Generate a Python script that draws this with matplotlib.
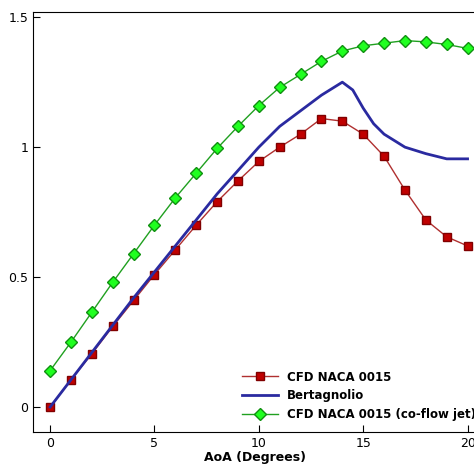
import matplotlib
matplotlib.use("Agg")
import matplotlib.pyplot as plt

aoa = list(range(21))
cfd = [0, 0.105, 0.205, 0.31, 0.41, 0.51, 0.605, 0.70, 0.79, 0.87, 0.945, 1.0, 1.05, 1.11, 1.10, 1.05, 0.965, 0.835, 0.72, 0.655, 0.62]
jet = [0.14, 0.25, 0.365, 0.48, 0.59, 0.70, 0.805, 0.90, 0.995, 1.08, 1.16, 1.23, 1.28, 1.33, 1.37, 1.39, 1.40, 1.41, 1.405, 1.395, 1.38]
ber_x = [0, 2, 4, 6, 8, 10, 11, 12, 13, 14, 14.5, 15, 15.5, 16, 17, 18, 19, 20]
ber_y = [0, 0.21, 0.42, 0.62, 0.82, 1.0, 1.08, 1.14, 1.2, 1.25, 1.22, 1.15, 1.09, 1.05, 1.0, 0.975, 0.955, 0.955]

fig = plt.figure(figsize=(4.74, 4.74), dpi=100)
ax = fig.add_axes([33/474, 1-432/474, 445/474, 420/474])
ax.plot(aoa, cfd, color="#b03030", lw=1, marker="s", ms=6, mfc="#c00000", mec="#800000", label="CFD NACA 0015")
ax.plot(ber_x, ber_y, color="#2a2aa0", lw=2, label="Bertagnolio")
ax.plot(aoa, jet, color="#20a020", lw=1, marker="D", ms=6, mfc="#20ff20", mec="#109010", label="CFD NACA 0015 (co-flow jet)")
ax.set_xlim(-0.82, 20.5)
ax.set_ylim(-0.096, 1.52)
ax.set_xticks([0, 5, 10, 15, 20])
ax.set_yticks([0, 0.5, 1, 1.5])
ax.set_yticklabels(["0", "0.5", "1", "1.5"])
ax.tick_params(direction="in", labelsize=9, length=5)
ax.set_xlabel("AoA (Degrees)", fontsize=9, fontweight="bold", labelpad=1)
leg = ax.legend(loc="lower right", bbox_to_anchor=(1.02, 0.0), frameon=False, fontsize=8.5, handlelength=3)
for t in leg.get_texts():
    t.set_fontweight("bold")
fig.savefig("out.png", dpi=100)
